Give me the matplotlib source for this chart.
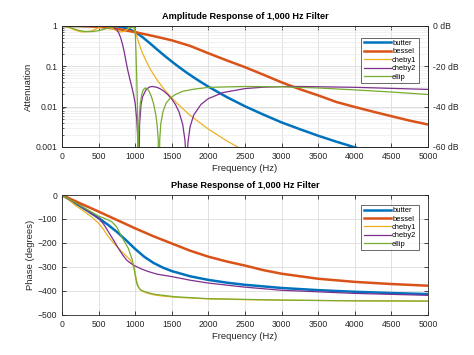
import matplotlib
matplotlib.use("Agg")
import matplotlib.pyplot as plt

plt.rcParams['font.family'] = ['Liberation Sans', 'DejaVu Sans']

# colours (MATLAB default order)
c_butter = '#0072BD'
c_bessel = '#D95319'
c_cheby1 = '#EDB120'
c_cheby2 = '#7E2F8E'
c_ellip = '#77AC30'

# ---- amplitude response (linear magnitude) ----
butter_f = [0, 500, 600, 700, 800, 900, 1000, 1100, 1200, 1300, 1400, 1500, 1600, 1700, 1800,
            1900, 2000, 2250, 2500, 2750, 3000, 3250, 3500, 3750, 4000, 4500, 5000]
butter_a = [1, 1.0, 0.997, 0.986, 0.95, 0.861, 0.707, 0.528, 0.373, 0.26, 0.183, 0.131, 0.0951,
            0.0703, 0.0529, 0.0404, 0.0312, 0.0173, 0.0102, 0.00636, 0.00406, 0.00276, 0.0019,
            0.00135, 0.00098, 0.00054, 0.00032]

bessel_f = [0, 250, 500, 750, 1000, 1250, 1500, 1750, 2000, 2250, 2500, 2750, 3000,
            3250, 3500, 3750, 4000, 4250, 4500, 4750, 5000]
bessel_a = [1, 0.99, 0.95, 0.85, 0.70, 0.56, 0.44, 0.32, 0.21, 0.14, 0.095, 0.062, 0.040,
            0.027, 0.019, 0.013, 0.0098, 0.0075, 0.0058, 0.0045, 0.0036]

cheby1_f = [0, 50, 100, 150, 200, 250, 309, 350, 400, 450, 500, 550, 588, 650, 700, 750, 809,
            850, 900, 930, 951, 975, 1000, 1025, 1050, 1075, 1100, 1150, 1200, 1250, 1300, 1400,
            1500, 1600, 1750, 2000, 2250, 2500, 3000]
cheby1_a = [1, 0.97, 0.902, 0.83, 0.764, 0.72, 0.708, 0.72, 0.75, 0.82, 0.895, 0.97, 1.0, 0.93,
            0.831, 0.75, 0.708, 0.74, 0.845, 0.95, 1.0, 0.93, 0.708, 0.52, 0.37, 0.28, 0.211,
            0.135, 0.089, 0.063, 0.0456, 0.0262, 0.0163, 0.0108, 0.0061, 0.00277, 0.00142,
            0.00079, 0.0003]

cheby2_f = [0, 500, 600, 650, 700, 725, 750, 775, 800, 825, 850, 875, 900, 925, 950, 975, 1000,
            1020, 1035, 1045, 1060, 1080, 1100, 1150, 1200, 1236, 1300, 1350, 1400, 1450, 1500,
            1550, 1600, 1650, 1680, 1690, 1701, 1720, 1750, 1800, 1900, 2000, 2200, 2500, 2750,
            3000, 3236, 4000, 5000]
cheby2_a = [1, 1.0, 0.99, 0.975, 0.94, 0.88, 0.8, 0.67, 0.52, 0.36, 0.23, 0.13, 0.078, 0.05,
            0.033, 0.021, 0.012, 0.005, 0.0018, 1e-5, 0.0037, 0.0113, 0.0174, 0.0268, 0.0309,
            0.0316, 0.030, 0.0271, 0.0235, 0.0195, 0.0154, 0.0113, 0.0073, 0.00357, 0.00147,
            0.00077, 1e-5, 0.00125, 0.00316, 0.0062, 0.0114, 0.0158, 0.0223, 0.028, 0.0303,
            0.0313, 0.0316, 0.0301, 0.0267]

ellip_f = [0, 100, 200, 300, 400, 500, 600, 700, 800, 900, 950, 975, 990, 1000, 1010, 1020,
           1030, 1040, 1045, 1055, 1070, 1090, 1110, 1135, 1160, 1190, 1220, 1250, 1280, 1300,
           1315, 1325, 1335, 1350, 1380, 1420, 1475, 1550, 1650, 1800, 2000, 2500, 3000, 3500,
           4000, 4500, 5000]
ellip_a = [1, 0.93, 0.8, 0.73, 0.72, 0.76, 0.85, 0.95, 1.0, 0.96, 0.9, 0.95, 1.0, 0.707, 0.25,
           0.06, 0.012, 1e-5, 0.002, 0.0055, 0.012, 0.02, 0.026, 0.029, 0.028, 0.024, 0.018,
           0.012, 0.0065, 0.0035, 0.0015, 1e-5, 0.0015, 0.0038, 0.0075, 0.012, 0.016, 0.02,
           0.024, 0.027, 0.030, 0.0316, 0.031, 0.029, 0.026, 0.023, 0.02]

# ---- phase response (degrees) ----
butter_pf = [0, 100, 250, 375, 500, 625, 750, 875, 1000, 1125, 1250, 1375, 1500, 1750, 2000,
             2250, 2500, 3000, 3500, 4000, 4500, 5000]
butter_p = [0, -18.6, -46.7, -70.9, -96.2, -123.3, -153.8, -188.4, -225, -257.6, -282.9,
            -302.1, -317, -338.7, -353.8, -365.2, -374.2, -387.4, -396.5, -403.3, -408.6, -412.8]

bessel_pf = [0, 250, 500, 750, 1000, 1250, 1500, 1750, 2000, 2250, 2500, 2750, 3000, 3500,
             4000, 4500, 5000]
bessel_p = [0, -35, -69, -104, -139, -172, -202, -232, -257, -277, -294, -313, -328, -349,
            -362, -371, -378]

cheby1_pf = [0, 100, 178, 300, 400, 450, 500, 570, 633, 700, 760, 815, 880, 930, 960, 985,
             1000, 1020, 1043, 1070, 1111, 1200, 1270, 1400, 1545, 2000, 2500, 3000, 4000, 5000]
cheby1_p = [0, -22, -42, -68, -90, -104, -118, -145, -174, -198, -218, -236, -255, -270, -285,
            -305, -325, -358, -382, -395, -403, -412, -417, -422, -426, -433, -436, -438, -441,
            -442]

cheby2_pf = [0, 250, 500, 570, 633, 700, 770, 830, 883, 940, 1000, 1100, 1180, 1300, 1500,
             1750, 2000, 2500, 3000, 4000, 5000]
cheby2_p = [0, -46, -97, -122, -153, -186, -222, -250, -271, -285, -296, -310, -319, -330,
            -340, -355, -367, -384, -397, -410, -418]

ellip_pf = [0, 250, 500, 600, 678, 746, 815, 860, 906, 961, 985, 1000, 1025, 1045, 1066, 1100,
            1150, 1270, 1545, 2000, 3000, 4000, 5000]
ellip_p = [0, -44, -88, -100, -111, -132, -174, -198, -222, -271, -305, -336, -372, -385, -393,
           -399, -405, -414, -424, -432, -438, -441, -442]

fig = plt.figure(figsize=(4.74, 3.55), dpi=100)
ax1 = fig.add_axes([0.1308, 0.586, 0.772, 0.341])
ax2 = fig.add_axes([0.1308, 0.1127, 0.772, 0.338])

axcol = '#262626'
fs = 6.2
lfs = 6.8

def style(ax):
    for s in ax.spines.values():
        s.set_color(axcol)
        s.set_linewidth(0.6)
    ax.tick_params(direction='in', length=3, width=0.6, colors=axcol, labelsize=fs,
                   top=True, right=True, pad=3.5)
    ax.tick_params(which='minor', direction='in', length=1.5, width=0.5, colors=axcol,
                   top=True, right=True)

ax1.plot(butter_f, butter_a, color=c_butter, lw=1.8, label='butter')
ax1.plot(bessel_f, bessel_a, color=c_bessel, lw=1.8, label='bessel')
ax1.plot(cheby1_f, cheby1_a, color=c_cheby1, lw=0.9, label='cheby1')
ax1.plot(cheby2_f, cheby2_a, color=c_cheby2, lw=0.9, label='cheby2')
ax1.plot(ellip_f, ellip_a, color=c_ellip, lw=0.9, label='ellip')
ax1.set_yscale('log')
ax1.set_xlim(0, 5000)
ax1.set_ylim(0.001, 1)
ax1.set_xticks(range(0, 5001, 500))
ax1.set_yticks([0.001, 0.01, 0.1, 1])
ax1.set_yticklabels(['0.001', '0.01', '0.1', '1'])
ax1.grid(True, which='major', color='#dcdcdc', lw=0.6)
ax1.grid(True, which='minor', axis='y', color='#ececec', lw=0.5)
ax1.set_axisbelow(True)
style(ax1)
ax1.tick_params(right=False, which='both')
ax1.set_title('Amplitude Response of 1,000 Hz Filter', fontsize=6.6, fontweight='bold', pad=5)
ax1.set_xlabel('Frequency (Hz)', fontsize=lfs, color=axcol, labelpad=2.5)
ax1.set_ylabel('Attenuation', fontsize=lfs, color=axcol, labelpad=2)
leg1 = ax1.legend(loc='upper right', fontsize=5.4, frameon=True, fancybox=False,
                  edgecolor=axcol, handlelength=3.6, borderpad=0.3, labelspacing=0.15,
                  handletextpad=0.2, bbox_to_anchor=(0.985, 0.935))
leg1.get_frame().set_linewidth(0.6)

axr = ax1.twinx()
axr.set_ylim(-60, 0)
axr.set_yticks([-60, -40, -20, 0])
axr.set_yticklabels(['-60 dB', '-40 dB', '-20 dB', '0 dB'])
style(axr)
axr.tick_params(left=False, top=False, pad=4)

ax2.plot(butter_pf, butter_p, color=c_butter, lw=1.8, label='butter')
ax2.plot(bessel_pf, bessel_p, color=c_bessel, lw=1.8, label='bessel')
ax2.plot(cheby1_pf, cheby1_p, color=c_cheby1, lw=0.9, label='cheby1')
ax2.plot(cheby2_pf, cheby2_p, color=c_cheby2, lw=0.9, label='cheby2')
ax2.plot(ellip_pf, ellip_p, color=c_ellip, lw=0.9, label='ellip')
ax2.set_xlim(0, 5000)
ax2.set_ylim(-500, 0)
ax2.set_xticks(range(0, 5001, 500))
ax2.set_yticks(range(-500, 1, 100))
ax2.grid(True, color='#dcdcdc', lw=0.6)
ax2.set_axisbelow(True)
style(ax2)
ax2.set_title('Phase Response of 1,000 Hz Filter', fontsize=6.6, fontweight='bold', pad=5)
ax2.set_xlabel('Frequency (Hz)', fontsize=lfs, color=axcol, labelpad=2.5)
ax2.set_ylabel('Phase (degrees)', fontsize=lfs, color=axcol, labelpad=2)
leg2 = ax2.legend(loc='upper right', fontsize=5.4, frameon=True, fancybox=False,
                  edgecolor=axcol, handlelength=3.6, borderpad=0.3, labelspacing=0.15,
                  handletextpad=0.2, bbox_to_anchor=(0.985, 0.95))
leg2.get_frame().set_linewidth(0.6)

fig.savefig('out.png', dpi=100)
